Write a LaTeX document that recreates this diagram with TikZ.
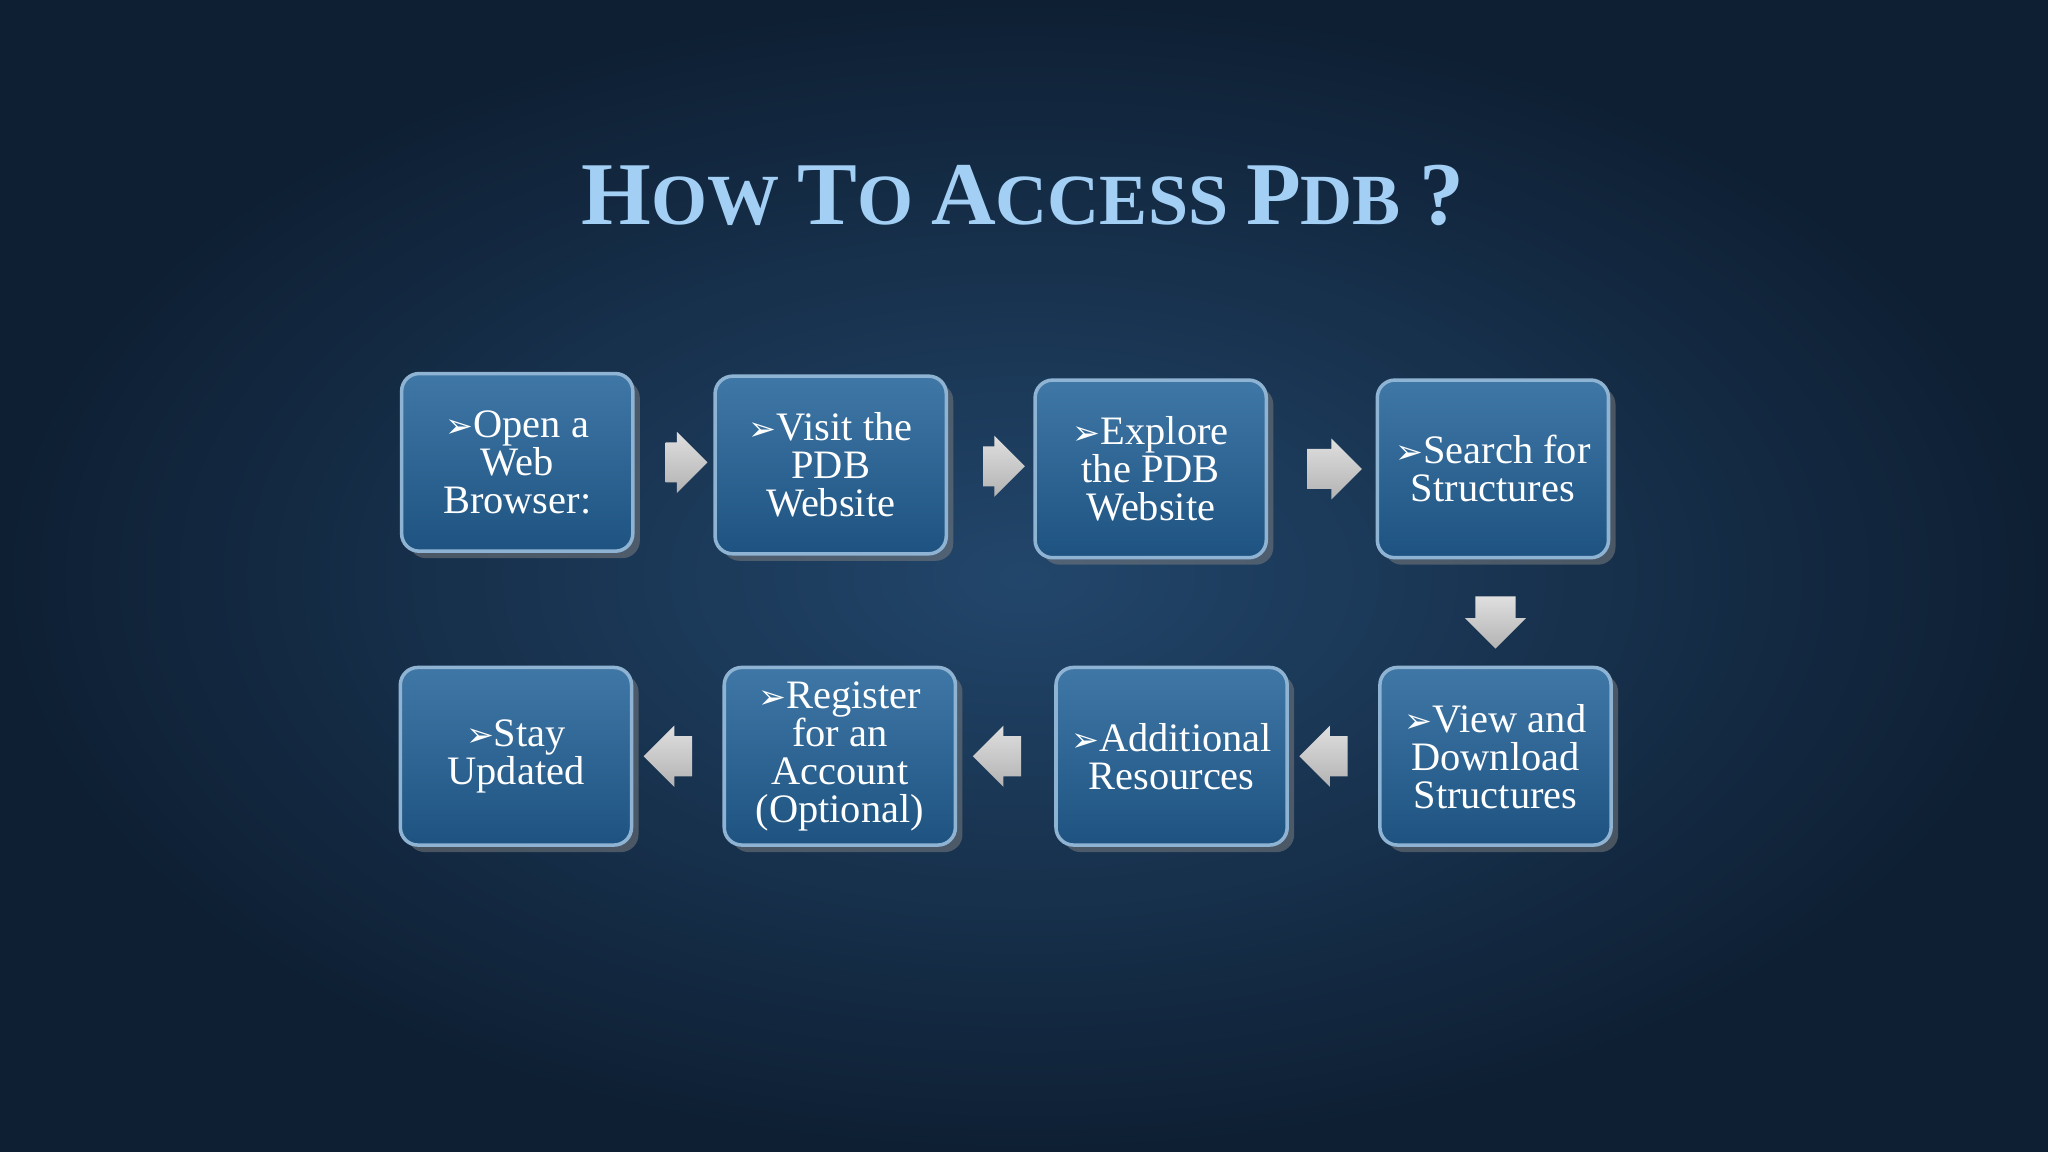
\documentclass[tikz,border=0pt]{standalone}
\usepackage{fontspec}
\setmainfont{Liberation Serif}
\newfontfamily\djv{DejaVu Sans}
\usetikzlibrary{shapes.arrows,shadows}
\definecolor{bgout}{HTML}{0E1F33}
\definecolor{bgin}{HTML}{22466B}
\definecolor{boxtop}{HTML}{3F77A6}
\definecolor{boxbot}{HTML}{1E5381}
\definecolor{boxline}{HTML}{8FB3D3}
\definecolor{titlec}{HTML}{A3CFF5}
\newcommand{\pxu}{*0.01306cm}
\tikzset{
 stepbox/.style={draw=boxline,line width=1pt,rounded corners=5pt,top color=boxtop,bottom color=boxbot,
   minimum width=177\pxu,minimum height=136\pxu,text=white,align=center,
   font=\fontsize{11.5}{10.8}\selectfont,drop shadow={opacity=0.5,shadow xshift=2pt,shadow yshift=-2pt}},
 blockarrow/.style={single arrow,draw=none,minimum height=32\pxu,minimum width=42\pxu,
   single arrow head extend=3pt,inner xsep=0pt,inner ysep=5.5pt,top color=gray!25,bottom color=gray!60}
}
\newcommand{\bl}{{\djv\fontsize{9.5}{10}\selectfont ➢}}
\begin{document}
\begin{tikzpicture}[x=0.01306cm,y=-0.01306cm]
\useasboundingbox (0,0) rectangle (1568,882);
\shade[inner color=bgin,outer color=bgout] (0,0) rectangle (1568,882);
\node[text=titlec,font=\bfseries] (title) at (783,150) {\fontsize{25.5}{30}\selectfont H\fontsize{20.5}{30}\selectfont OW \fontsize{25.5}{30}\selectfont T\fontsize{20.5}{30}\selectfont O \fontsize{25.5}{30}\selectfont A\fontsize{20.5}{30}\selectfont CCESS \fontsize{25.5}{30}\selectfont P\fontsize{20.5}{30}\selectfont DB \fontsize{25.5}{30}\selectfont ?};
\node[stepbox] (b1) at (396,354) {\bl Open a\\Web\\Browser:};
\node[stepbox] (b2) at (636,356) {\bl Visit the\\PDB\\Website};
\node[stepbox] (b3) at (881,359) {\bl Explore\\the PDB\\Website};
\node[stepbox] (b4) at (1143,359) {\bl Search for\\Structures};
\node[stepbox] (b5) at (1145,579) {\bl View and\\Download\\Structures};
\node[stepbox] (b6) at (897,579) {\bl Additional\\Resources};
\node[stepbox] (b7) at (643,579) {\bl Register\\for an\\Account\\(Optional)};
\node[stepbox] (b8) at (395,579) {\bl Stay\\Updated};
\node[blockarrow] (a1) at (518,354) {};
\node[blockarrow] (a2) at (761,357) {};
\node[blockarrow,minimum height=42\pxu] (a3) at (1014,359) {};
\node[blockarrow,rotate=-90,minimum height=40\pxu] (a4) at (1145,469) {};
\node[blockarrow,rotate=180,minimum height=37\pxu] (a5) at (1021,579) {};
\node[blockarrow,rotate=180,minimum height=37\pxu] (a6) at (771,579) {};
\node[blockarrow,rotate=180,minimum height=37\pxu] (a7) at (519,579) {};
\end{tikzpicture}
\end{document}
